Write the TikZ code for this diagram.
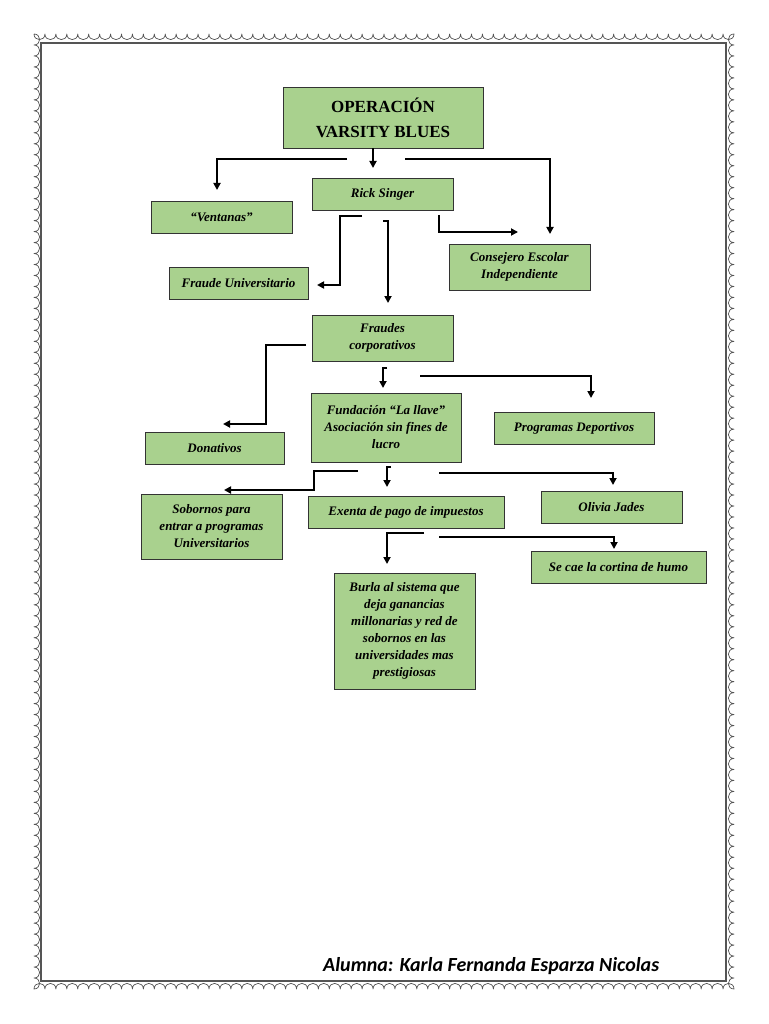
\documentclass[tikz,border=0pt]{standalone}
\usepackage{fontspec}
\setmainfont{Liberation Serif}
\newfontfamily\footfont{Carlito}
\usetikzlibrary{arrows.meta}
\definecolor{boxgreen}{HTML}{A9D18E}
\definecolor{boxline}{HTML}{333333}
\definecolor{stampgray}{HTML}{555555}
\tikzset{
  box/.style={draw=boxline, line width=0.9pt, fill=boxgreen, align=center, inner sep=2pt,
    font=\fontsize{13}{17}\selectfont\bfseries\itshape},
  conn/.style={line width=1.8pt, -{Triangle[length=7pt,width=7pt]}},
  stamp/.style={draw=stampgray, line width=0.7pt, line join=round},
}
\begin{document}
\begin{tikzpicture}[x=1pt,y=-1pt]
\fill[white] (0,0) rectangle (768,1024);
\useasboundingbox (0,0) rectangle (768,1024);
% stamp border
\draw[stamp] (34,34)
  \foreach \i in {1,...,64} { .. controls +(0,7.5) and +(0,7.5) .. (34+\i*10.9375,34) }
  \foreach \i in {1,...,87} { .. controls +(-7.5,0) and +(-7.5,0) .. (734,34+\i*10.977) }
  \foreach \i in {1,...,64} { .. controls +(0,-7.5) and +(0,-7.5) .. (734-\i*10.9375,989) }
  \foreach \i in {1,...,87} { .. controls +(7.5,0) and +(7.5,0) .. (34,989-\i*10.977) };
\draw[stampgray, line width=1.5pt] (41,43) rectangle (726,981);

% boxes
\node[box, minimum width=200pt, minimum height=61pt, font=\fontsize{17}{25}\selectfont\bfseries] (title) at (383,117.5) {OPERACIÓN\\VARSITY BLUES};
\node[box, minimum width=141pt, minimum height=32pt] (rick) at (382.5,194) {Rick Singer};
\node[box, minimum width=141pt, minimum height=32pt] (ventanas) at (221.5,217) {“Ventanas”};
\node[box, minimum width=141pt, minimum height=46pt] (consejero) at (519.5,267) {Consejero Escolar\\Independiente};
\node[box, minimum width=139pt, minimum height=32pt] (fraudeu) at (238.5,283) {Fraude Universitario};
\node[box, minimum width=141pt, minimum height=46pt] (fraudesc) at (382.5,338) {Fraudes\\corporativos};
\node[box, minimum width=150pt, minimum height=69pt] (fundacion) at (386,427.5) {Fundación “La llave”\\Asociación sin fines de\\lucro};
\node[box, minimum width=160pt, minimum height=32pt] (programas) at (574,428) {Programas Deportivos};
\node[box, minimum width=139pt, minimum height=32pt] (donativos) at (214.5,448) {Donativos};
\node[box, minimum width=141pt, minimum height=65pt] (sobornos) at (211.5,526.5) {Sobornos para\\entrar a programas\\Universitarios};
\node[box, minimum width=196pt, minimum height=32pt] (exenta) at (406,512) {Exenta de pago de impuestos};
\node[box, minimum width=141pt, minimum height=32pt] (olivia) at (611.5,507) {Olivia Jades};
\node[box, minimum width=175pt, minimum height=32pt] (secae) at (618.5,567) {Se cae la cortina de humo};
\node[box, minimum width=141pt, minimum height=116pt] (burla) at (404.5,631) {Burla al sistema que\\deja ganancias\\millonarias y red de\\sobornos en las\\universidades mas\\prestigiosas};

% connector points
\coordinate (t1a) at (373,148); \coordinate (t1b) at (373,168);
\coordinate (t2a) at (347,159); \coordinate (t2b) at (217,190);
\coordinate (t3a) at (405,159); \coordinate (t3b) at (550,234);
\coordinate (r1a) at (362,216); \coordinate (r1b) at (317,285);
\coordinate (r2a) at (383,221); \coordinate (r2b) at (388,303);
\coordinate (r3a) at (439,215); \coordinate (r3b) at (518,232);
\coordinate (f1a) at (306,345); \coordinate (f1b) at (223,424);
\coordinate (f2a) at (387,368); \coordinate (f2b) at (383,388);
\coordinate (f3a) at (420,376); \coordinate (f3b) at (591,398);
\coordinate (u1a) at (358,471); \coordinate (u1b) at (224,490);
\coordinate (u2a) at (391,467); \coordinate (u2b) at (387,487);
\coordinate (u3a) at (439,473); \coordinate (u3b) at (613,485);
\coordinate (e1a) at (424,533); \coordinate (e1b) at (387,564);
\coordinate (e2a) at (439,537); \coordinate (e2b) at (614,549);

\draw[conn] (t1a) -- (t1b);
\draw[conn] (t2a) -| (t2b);
\draw[conn] (t3a) -| (t3b);
\draw[conn] (r1a) -- (340,216) |- (r1b);
\draw[conn] (r2a) -| (r2b);
\draw[conn] (r3a) |- (r3b);
\draw[conn] (f1a) -- (266,345) |- (f1b);
\draw[conn] (f2a) -| (f2b);
\draw[conn] (f3a) -| (f3b);
\draw[conn] (u1a) -- (314,471) |- (u1b);
\draw[conn] (u2a) -| (u2b);
\draw[conn] (u3a) -| (u3b);
\draw[conn] (e1a) -| (e1b);
\draw[conn] (e2a) -| (e2b);

\node[font={\footfont\fontsize{20}{22}\selectfont\bfseries\itshape}, anchor=base west, inner sep=0pt] (alumna) at (323,971) {Alumna: Karla Fernanda Esparza Nicolas};
\end{tikzpicture}
\end{document}
